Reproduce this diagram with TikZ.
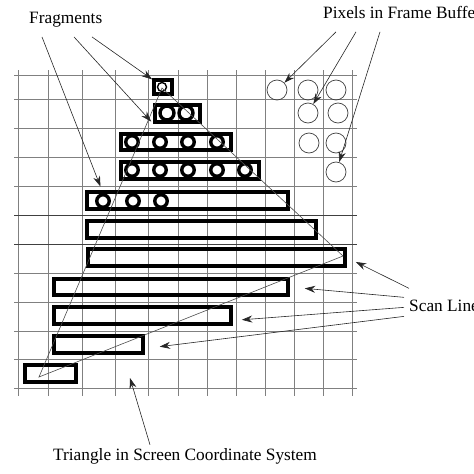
\documentclass[tikz,border=0pt]{standalone}
\usepackage{fontspec}
\setmainfont{Liberation Serif}
\usetikzlibrary{arrows.meta,positioning,fit}

\begin{document}
\begin{tikzpicture}[
    x=1pt, y=-1pt,
    gridline/.style={black!50, line width=0.8pt},
    frag/.style={draw, line width=3.6pt, inner sep=0pt},
    ring/.style={circle, draw, line width=3.4pt, minimum size=12.5pt, inner sep=0pt},
    pixel/.style={circle, draw, black!75, line width=0.7pt, minimum size=20pt, inner sep=0pt},
    txt/.style={anchor=base west, inner sep=0pt, font=\fontsize{17.3}{20}\selectfont},
    arrow/.style={-{Stealth[length=10.5pt,width=7pt]}, line width=0.6pt, black!85},
    edge/.style={black!70, line width=0.6pt}
]
\useasboundingbox (0,0) rectangle (474,474);

% screen grid
\foreach \x in {18,48,82,115,148,178,207,236,265,294,323,352}
    \draw[gridline] (\x,70) -- (\x,396);
\foreach \y in {75,99,128,157,186,273,302,331,359,388}
    \draw[gridline] (14,\y) -- (357,\y);
\foreach \y in {215,244}
    \draw[gridline, black!75] (14,\y) -- (357,\y);

% fragment spans
\foreach \n/\xa/\ya/\xb/\yb in {0/154/80/172/94, 1/155/105/200/122, 2/121/134/231/150,
        3/121/162/259/179, 4/87/192/288/209, 5/87/221/316/238, 6/88/249/345/266,
        7/54/279/288/295, 8/54/307/231/324, 9/54/336/143/353, 10/25/365/76/382}
    \node[frag, fit={(\xa,\ya) (\xb,\yb)}] (f\n) {};

\node[circle, draw, line width=1.4pt, minimum size=9pt, inner sep=0pt] (c0) at (162,87) {};
\foreach \n/\x/\y in {1a/167/113, 1b/186/113}
    \node[ring, minimum size=14pt] (c\n) at (\x,\y) {};
\foreach \n/\x/\y in {2a/132/142, 2b/160/142, 2c/188/142, 2d/217/142,
        3a/132/170, 3b/160/170, 3c/188/170, 3d/217/170, 3e/245/170,
        4a/103/201, 4b/133/201, 4c/161/201}
    \node[ring] (c\n) at (\x,\y) {};

% frame buffer pixels
\foreach \n/\x/\y in {1/277/90, 2/308/90, 3/336/90, 4/308/113, 5/338/113,
        6/309/143, 7/336/143, 8/336/172}
    \node[pixel] (p\n) at (\x,\y) {};

% triangle
\coordinate (apex) at (162,88);
\coordinate (right) at (343,256);
\coordinate (left) at (39,377);
\draw[edge] (apex) -- (right) -- (left) -- cycle;

\node[txt] (fragl) at (29,23) {Fragments};
\node[txt] (pixl) at (323,18.5) {Pixels in Frame Buffer};
\node[txt] (scanl) at (409,311) {Scan Lines};
\node[txt] (tril) at (53,460) {Triangle in Screen Coordinate System};
\coordinate (screen) at (130,378);

\draw[arrow] ([xshift=63pt,yshift=-10pt]fragl.south west) -- (f0);
\draw[arrow, shorten >=3pt] ([xshift=45pt,yshift=-10pt]fragl.south west) -- (f1.south west);
\draw[arrow, shorten >=7pt] ([xshift=13pt,yshift=-10pt]fragl.south west) -- (c4a.north);

\draw[arrow] ([xshift=13pt,yshift=-13pt]pixl.south west) -- (p1);
\draw[arrow] ([xshift=33pt,yshift=-13pt]pixl.south west) -- (p4);
\draw[arrow] ([xshift=57pt,yshift=-13pt]pixl.south west) -- (p8);

\draw[arrow, shorten >=10pt] ([yshift=11pt]scanl.north west) -- (f6.east);
\draw[arrow, shorten >=15pt] ([xshift=-5pt,yshift=2pt]scanl.north west) -- (f7.east);
\draw[arrow, shorten >=9pt] ([xshift=-5pt,yshift=-2pt]scanl.west) -- ([yshift=-5pt]f8.east);
\draw[arrow, shorten >=15pt] ([xshift=-5pt,yshift=-5pt]scanl.south west) -- ([yshift=-4pt]f9.east);

\draw[arrow] ([xshift=97pt,yshift=3pt]tril.north west) -- (screen);
\end{tikzpicture}
\end{document}
